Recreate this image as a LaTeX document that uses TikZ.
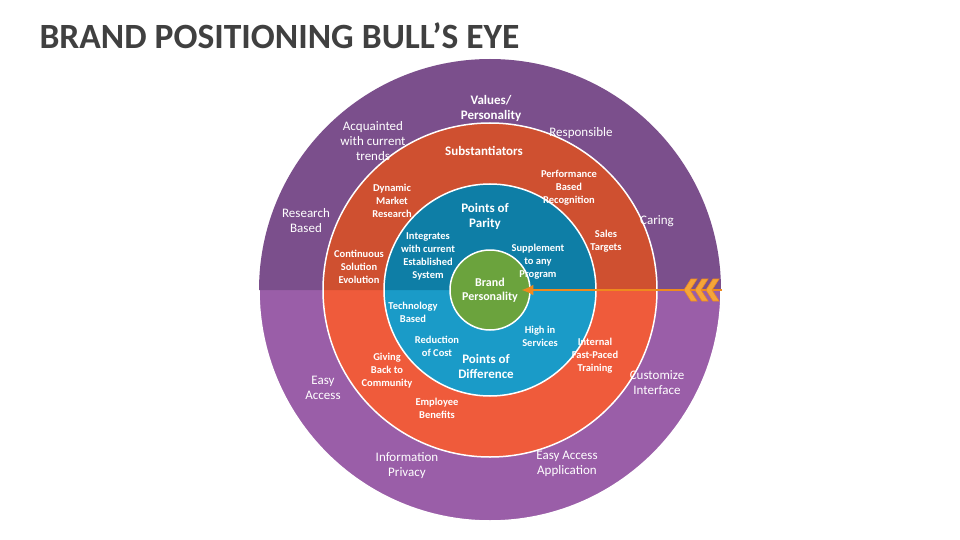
\documentclass[tikz,border=0pt]{standalone}
\usepackage{fontspec}
\usetikzlibrary{arrows.meta}
\setmainfont{Carlito}
\begin{document}
\begin{tikzpicture}[x=1pt,y=-1pt,
  lab/.style={text=white,align=center,font=\fontsize{13}{15}\selectfont},
  sm/.style={text=white,align=center,font=\bfseries\fontsize{10.5}{13}\selectfont},
  hd/.style={text=white,align=center,font=\bfseries\fontsize{13}{15}\selectfont}]
\definecolor{pt}{HTML}{7B4F8C}\definecolor{pb}{HTML}{9A5EA8}
\definecolor{ot}{HTML}{CF5030}\definecolor{ob}{HTML}{EF5B3B}
\definecolor{bt}{HTML}{0E7EA6}\definecolor{bb}{HTML}{1A9BC8}
\definecolor{gr}{HTML}{6BA33D}\definecolor{ar}{HTML}{EE8A1E}\definecolor{af}{HTML}{F5A53A}
\useasboundingbox (0,0) rectangle (960,540);
\node[anchor=west,text=black!75,font=\bfseries\fontsize{35.5}{38}\selectfont] (title) at (36,36) {BRAND POSITIONING BULL’S EYE};
\coordinate (c) at (490,290);
\fill[pb,draw=white,line width=1.5pt] (c) circle (231);
\fill[pt] (259,290) arc[start angle=180,end angle=360,radius=231] -- cycle;
\fill[ob] (c) circle (167);
\fill[ot] (323,290) arc[start angle=180,end angle=360,radius=167] -- cycle;
\draw[white,line width=1.5pt] (c) circle (167);
\fill[bb] (c) circle (106);
\fill[bt] (384,290) arc[start angle=180,end angle=360,radius=106] -- cycle;
\draw[white,line width=1.5pt] (c) circle (106);
\fill[gr,draw=white,line width=1.5pt] (c) circle (40);
\node[hd,font=\bfseries\fontsize{12}{14}\selectfont] (bp) at (c) {Brand\\Personality};
% outer
\node[hd] (vp) at (491,108) {Values/\\Personality};
\node[lab] (a1) at (373,141) {Acquainted\\with current\\trends};
\node[lab] (a2) at (581,133) {Responsible};
\node[lab] (a3) at (306,221) {Research\\Based};
\node[lab] (a4) at (657,221) {Caring};
\node[lab] (a5) at (323,388) {Easy\\Access};
\node[lab] (a6) at (657,383) {Customize\\Interface};
\node[lab] (a7) at (407,466) {Information\\Privacy};
\node[lab] (a8) at (567,464) {Easy Access\\Application};
% orange
\node[hd] (sub) at (484,151) {Substantiators};
\node[sm] (o1) at (392,201) {Dynamic\\Market\\Research};
\node[sm] (o2) at (569,188) {Performance\\Based\\Recognition};
\node[sm] (o3) at (359,267) {Continuous\\Solution\\Evolution};
\node[sm] (o4) at (606,241) {Sales\\Targets};
\node[sm] (o5) at (387,371) {Giving\\Back to\\Community};
\node[sm] (o6) at (595,356) {Internal\\Fast-Paced\\Training};
\node[sm] (o7) at (437,408) {Employee\\Benefits};
% blue
\node[hd] (pp) at (485,216) {Points of\\Parity};
\node[sm] (b1) at (428,256) {Integrates\\with current\\Established\\System};
\node[sm] (b2) at (538,262) {Supplement\\to any\\Program};
\node[sm] (b3) at (413,312) {Technology\\Based};
\node[sm] (b4) at (437,346) {Reduction\\of Cost};
\node[sm] (b5) at (540,336) {High in\\Services};
\node[hd] (pd) at (486,366) {Points of\\Difference};
% arrow
\coordinate (tail) at (722,290);
\draw[ar,line width=2.5pt,-{Latex[length=12pt,width=11pt]}] (tail) -- (bp.east);
\foreach \x in {684,695,706}{
  \fill[af,draw=ar,line width=0.6pt] (\x,290) -- (\x+7,279) -- (\x+13,279) -- (\x+6,290) -- (\x+13,301) -- (\x+7,301) -- cycle;}
\end{tikzpicture}
\end{document}
